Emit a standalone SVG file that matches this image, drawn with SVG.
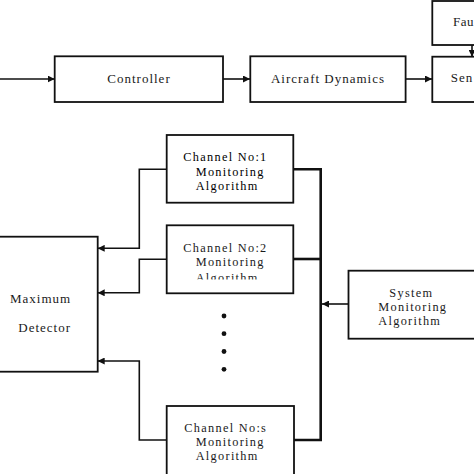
<svg xmlns="http://www.w3.org/2000/svg" width="474" height="474" viewBox="0 0 474 474">
<style>
.box{fill:#fff;stroke:#111;stroke-width:1.8}
.ln{fill:none;stroke:#111;stroke-width:1.6}
.bus{fill:none;stroke:#111;stroke-width:2.6}
.t{font-family:"Liberation Serif","Times New Roman",serif;font-size:13px;letter-spacing:1px;fill:#1a1a1a}
.s{font-size:12.3px;letter-spacing:1.3px}
.tc{text-anchor:middle}
.dot{fill:#111}
</style>
<defs>
<marker id="ah" viewBox="0 0 10 10" refX="10" refY="5" markerWidth="7" markerHeight="7" markerUnits="userSpaceOnUse" orient="auto">
<path d="M0,0 L10,5 L0,10 Z" fill="#111"/>
</marker>
<clipPath id="c2clip"><rect x="160" y="220" width="140" height="59.5"/></clipPath>
</defs>
<rect width="474" height="474" fill="#fff"/>

<g id="connectors">
<line class="ln" x1="0" y1="79" x2="54.7" y2="79" marker-end="url(#ah)"/>
<line class="ln" x1="223" y1="79" x2="250" y2="79" marker-end="url(#ah)"/>
<line class="ln" x1="405.6" y1="79" x2="432" y2="79" marker-end="url(#ah)"/>
<line class="ln" x1="472" y1="45" x2="472" y2="56.7" marker-end="url(#ah)"/>
<polyline class="ln" points="166.7,169.3 139.3,169.3 139.3,248.3 97.7,248.3" marker-end="url(#ah)"/>
<polyline class="ln" points="166.7,259.3 139.3,259.3 139.3,292.8 97.7,292.8" marker-end="url(#ah)"/>
<polyline class="ln" points="166.7,440 139.3,440 139.3,361 97.7,361" marker-end="url(#ah)"/>
<polyline class="bus" points="293.3,169.3 320.7,169.3 320.7,440 294,440"/>
<line class="bus" x1="293.3" y1="259" x2="320.7" y2="259"/>
<line class="ln" x1="348.5" y1="304" x2="322" y2="304" marker-end="url(#ah)"/>
</g>

<g id="controller">
<rect class="box" x="54.7" y="56.3" width="168.3" height="45.7"/>
<text class="t tc" x="139" y="83">Controller</text>
</g>

<g id="aircraft-dynamics">
<rect class="box" x="250.3" y="56.3" width="155.3" height="45.7"/>
<text class="t tc" x="328" y="83">Aircraft Dynamics</text>
</g>

<g id="sensor">
<rect class="box" x="432.3" y="56.7" width="50" height="45.3"/>
<text class="t" x="450.7" y="82">Sen</text>
</g>

<g id="fault">
<rect class="box" x="432.3" y="1" width="50" height="44"/>
<text class="t" x="453" y="26" style="letter-spacing:0.5px">Fau</text>
</g>

<g id="channel-1">
<rect class="box" x="166.7" y="135" width="126.6" height="67.7"/>
<text class="t s" x="183.3" y="160.7" style="fill:#000">Channel No:1</text>
<text class="t s" x="195.7" y="175.5" style="fill:#000">Monitoring</text>
<text class="t s" x="195.7" y="190" style="fill:#000">Algorithm</text>
</g>

<g id="channel-2">
<rect class="box" x="166.7" y="225.3" width="126.6" height="68"/>
<text class="t s" x="183.3" y="251.7">Channel No:2</text>
<text class="t s" x="195.7" y="266">Monitoring</text>
<text class="t s" x="195.7" y="281.5" clip-path="url(#c2clip)">Algorithm</text>
</g>

<g id="ellipsis">
<circle class="dot" cx="224" cy="316" r="2.4"/>
<circle class="dot" cx="224" cy="333.7" r="2.4"/>
<circle class="dot" cx="224" cy="351.5" r="2.4"/>
<circle class="dot" cx="224" cy="369.3" r="2.4"/>
</g>

<g id="channel-s">
<rect class="box" x="166.7" y="406" width="127.3" height="72"/>
<text class="t s" x="184.3" y="431.7">Channel No:s</text>
<text class="t s" x="195.7" y="446">Monitoring</text>
<text class="t s" x="195.7" y="460.3">Algorithm</text>
</g>

<g id="system-monitoring">
<rect class="box" x="348.5" y="270.7" width="130" height="68"/>
<text class="t s" x="389.3" y="296.7">System</text>
<text class="t s" x="378.3" y="311">Monitoring</text>
<text class="t s" x="378.3" y="325.3">Algorithm</text>
</g>

<g id="maximum-detector">
<rect class="box" x="-5" y="236.7" width="102.7" height="135"/>
<text class="t" x="10" y="302.7">Maximum</text>
<text class="t" x="18.3" y="331.7">Detector</text>
</g>
</svg>
